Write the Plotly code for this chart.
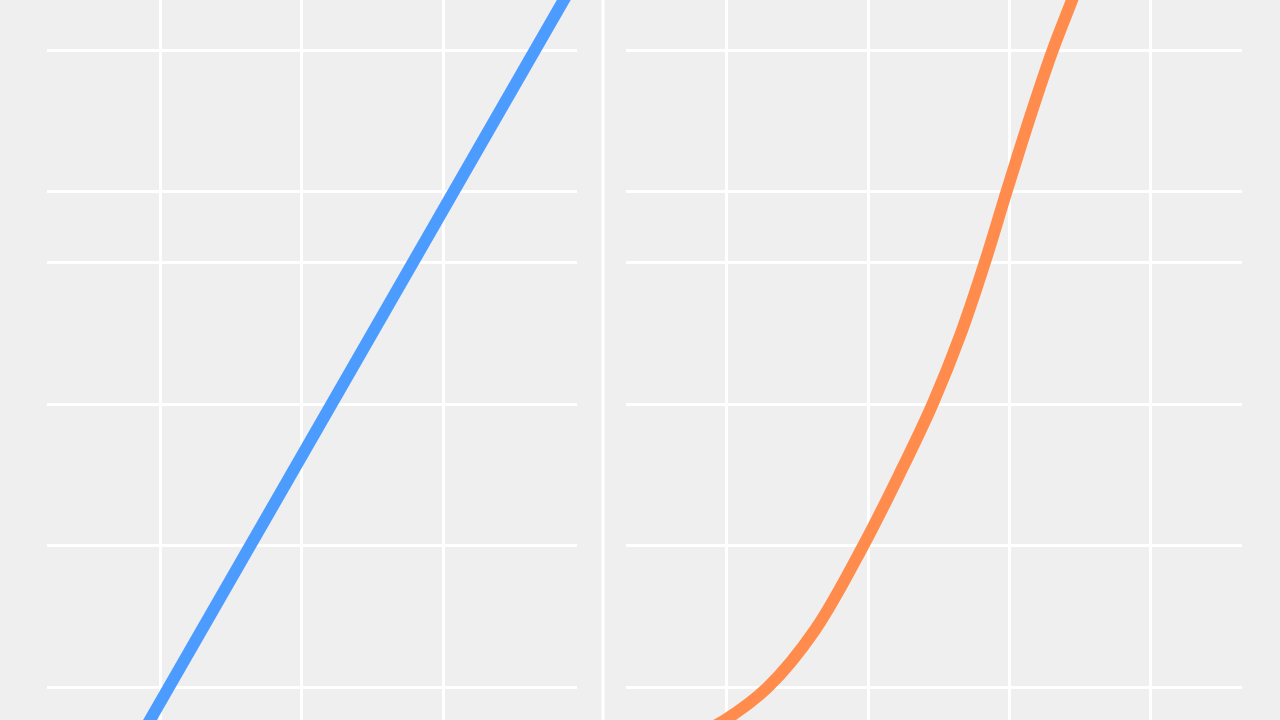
import plotly.graph_objects as go

# values (data units, grid step = 1)
linear_x = [-0.5, 0, 1, 2, 3]
linear_y = [-0.98, -0.11, 1.63, 3.37, 5.11]

ease_x = [-0.3, -0.014, 0.291, 0.624, 0.965, 1.227, 1.461, 1.660, 1.830, 1.986, 2.149, 2.305, 2.447, 2.58]
ease_y = [-0.38, -0.233, 0.0, 0.403, 0.996, 1.512, 2.007, 2.502, 3.004, 3.512, 4.028, 4.488, 4.855, 5.2]

y_ticks = [0, 1, 2, 3, 3.5, 4.5]
left_ticks = [0, 1, 2]
right_ticks = [0, 1, 2, 3]

bg = '#efefef'
grid = dict(showgrid=True, gridcolor='white', gridwidth=3, zeroline=False,
            showline=False, showticklabels=False, ticks='')

fig = go.Figure(
    data=[
        go.Scatter(x=linear_x, y=linear_y, mode='lines', xaxis='x', yaxis='y',
                   line=dict(color='#4c9bff', width=12)),
        go.Scatter(x=ease_x, y=ease_y, mode='lines', xaxis='x2', yaxis='y2',
                   line=dict(color='#ff8c4c', width=12, shape='spline', smoothing=1)),
    ],
    layout=go.Layout(
        width=1280, height=720,
        margin=dict(l=0, r=0, t=0, b=0),
        paper_bgcolor=bg, plot_bgcolor=bg,
        showlegend=False,
        xaxis=dict(domain=[47 / 1280, 577 / 1280], range=[-0.7986, 2.947],
                   tickvals=left_ticks, **grid),
        yaxis=dict(domain=[0, 1], range=[-0.233, 4.855], tickvals=y_ticks, **grid),
        xaxis2=dict(domain=[626 / 1280, 1242 / 1280], range=[-0.716, 3.652],
                    tickvals=right_ticks, **grid),
        yaxis2=dict(domain=[0, 1], range=[-0.233, 4.855], tickvals=y_ticks,
                    anchor='x2', **grid),
        shapes=[dict(type='line', xref='paper', yref='paper', x0=603 / 1280, x1=603 / 1280,
                     y0=0, y1=1, line=dict(color='white', width=3), layer='below')],
    )
)

fig.write_html('out.html', config={'displayModeBar': False},
               post_script="document.body.style.margin='0';"
                           "document.body.style.background='#efefef';")
